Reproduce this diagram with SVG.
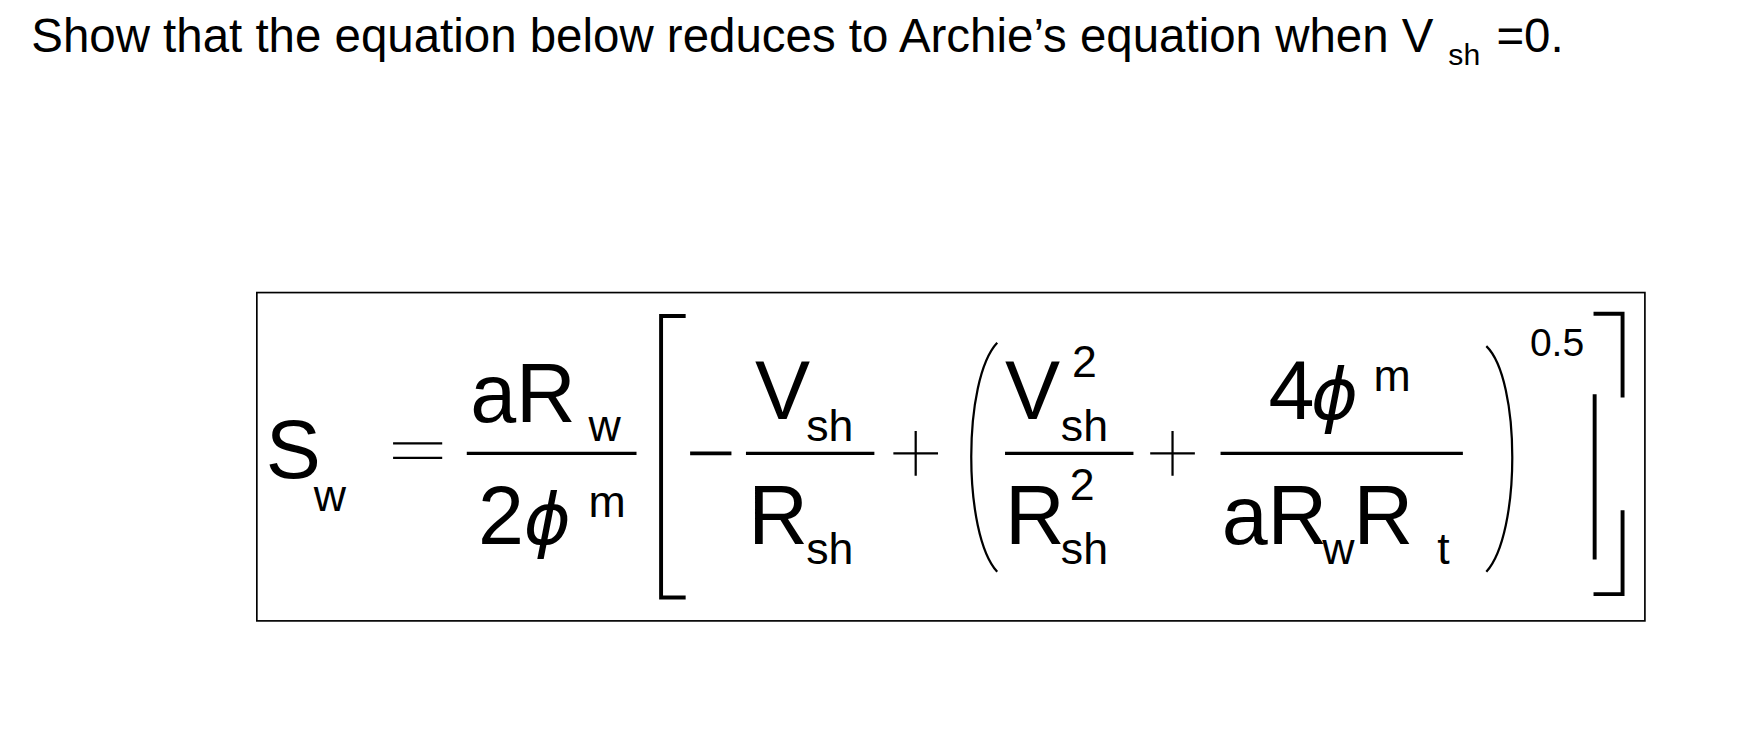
<svg xmlns="http://www.w3.org/2000/svg" width="1751" height="746" viewBox="0 0 1751 746">
<style>
text{font-family:"Liberation Sans",Arial,sans-serif;fill:#000}
.b{font-size:74px}.s{font-size:40px}.t{font-size:42.5px}
.phi{font-family:"DejaVu Sans",sans-serif;font-size:64px;font-style:italic}
.l{stroke:#000;stroke-width:3;fill:none}
.br{stroke:#000;stroke-width:3.5;fill:none}
.p{stroke:#000;stroke-width:2;fill:none}
</style>
<rect width="1751" height="746" fill="#fff"/>
<g transform="scale(1.1167)">
<g id="title"><text class="t" x="28" y="47">Show that the equation below reduces to Archie’s equation when V</text><text x="1297" y="58" style="font-size:27px">sh</text><text class="t" x="1340" y="47">=0.</text></g>
<g id="equation">
<rect x="230" y="262" width="1243" height="294" fill="none" stroke="#000" stroke-width="1.5"/>
<text class="b" x="238" y="428" style="font-size:74px">S</text><text class="s" x="281" y="458">w</text>
<path class="p" d="M352 397H396M352 410H396"/>
<path class="l" d="M418 406H570"/>
<text class="b" x="421" y="378">aR</text><text class="s" x="527" y="395">w</text>
<text class="b" x="428" y="487">2</text><text class="phi" x="469" y="487">ϕ</text><text class="s" x="527" y="463">m</text>
<path class="br" d="M614 283H592V535H614"/>
<path class="br" d="M618 406H655"/>
<path class="l" d="M668 406H783"/>
<text class="b" x="676" y="375">V</text><text class="s" x="722" y="395">sh</text>
<text class="b" x="670" y="487">R</text><text class="s" x="722" y="505">sh</text>
<path class="p" d="M800 406H840M820 386V426"/>
<path class="p" d="M893 307C862 340 862 478 893 512"/>
<text class="b" x="900" y="375">V</text><text class="s" x="960" y="338">2</text><text class="s" x="950" y="395">sh</text>
<path class="l" d="M900 406H1015"/>
<text class="b" x="900" y="487">R</text><text class="s" x="958" y="448">2</text><text class="s" x="950" y="505">sh</text>
<path class="p" d="M1030 406H1070M1050 386V426"/>
<text class="b" x="1136" y="375">4</text><text class="phi" x="1174" y="375">ϕ</text><text class="s" x="1230" y="350">m</text>
<path class="l" d="M1093 406H1310"/>
<text class="b" x="1094" y="487">aR</text><text class="s" x="1184" y="505">w</text><text class="b" x="1212" y="487">R</text><text class="s" x="1287" y="505">t</text>
<path class="p" d="M1331 310C1362 340 1362 478 1331 512"/>
<text class="s" x="1370" y="319" style="font-size:35px">0.5</text>
<path class="br" d="M1427 281H1453V356M1428 353V501M1453 457V532H1427"/>
</g>
</g>
</svg>
